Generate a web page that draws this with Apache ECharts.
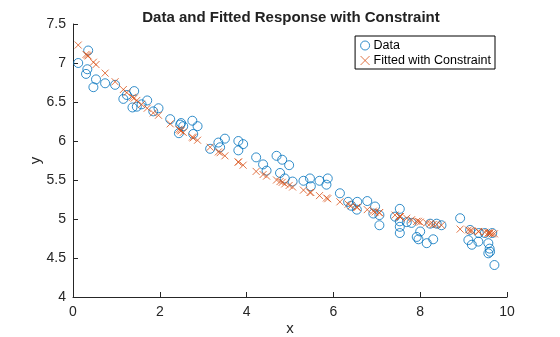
<!DOCTYPE html>
<html><head><meta charset="utf-8">
<script src="https://cdn.jsdelivr.net/npm/echarts@6/dist/echarts.min.js"></script>
<style>html,body{margin:0;padding:0;background:#fff}#c{width:560px;height:337px}</style>
</head><body><div id="c"></div>
<script>
const xVals = [0.12,0.30,0.33,0.35,0.47,0.53,0.74,0.97,1.16,1.24,1.37,1.41,1.47,1.58,1.71,1.85,1.97,2.24,2.44,2.47,2.49,2.54,2.75,2.77,2.87,3.16,3.35,3.39,3.50,3.81,3.81,3.92,4.22,4.38,4.46,4.69,4.77,4.82,4.88,4.98,5.06,5.31,5.46,5.48,5.68,5.84,5.87,6.15,6.34,6.41,6.54,6.55,6.78,6.92,6.96,7.06,7.06,7.42,7.53,7.53,7.53,7.53,7.69,7.80,7.92,7.96,8.00,8.15,8.23,8.30,8.38,8.49,8.92,9.11,9.15,9.19,9.34,9.35,9.49,9.57,9.57,9.60,9.61,9.66,9.71];
const yData = [7.00,6.86,6.92,7.16,6.69,6.79,6.74,6.72,6.54,6.59,6.43,6.64,6.44,6.47,6.52,6.38,6.42,6.28,6.10,6.21,6.23,6.19,6.26,6.09,6.19,5.90,5.98,5.92,6.03,6.00,5.88,5.96,5.79,5.70,5.62,5.81,5.59,5.76,5.52,5.69,5.48,5.49,5.52,5.42,5.49,5.44,5.52,5.33,5.22,5.17,5.12,5.22,5.23,5.07,5.16,5.05,4.92,5.03,5.13,4.97,4.90,4.82,4.96,4.95,4.77,4.74,4.84,4.69,4.94,4.74,4.94,4.92,5.01,4.73,4.86,4.67,4.71,4.82,4.82,4.69,4.56,4.62,4.58,4.82,4.41];
const yFit = [7.23,7.11,7.10,7.09,7.01,6.98,6.87,6.76,6.66,6.62,6.56,6.55,6.52,6.47,6.42,6.36,6.33,6.22,6.15,6.14,6.13,6.11,6.05,6.04,6.01,5.92,5.86,5.85,5.81,5.73,5.73,5.69,5.61,5.57,5.55,5.50,5.48,5.47,5.45,5.43,5.41,5.37,5.34,5.34,5.30,5.27,5.26,5.22,5.19,5.17,5.15,5.15,5.12,5.10,5.09,5.08,5.08,5.05,5.03,5.03,5.03,5.03,5.01,4.99,4.97,4.97,4.96,4.95,4.94,4.93,4.93,4.92,4.87,4.86,4.85,4.85,4.84,4.84,4.83,4.82,4.82,4.82,4.82,4.81,4.81];
const xTicks = [0,2,4,6,8,10];
const yTicks = [4,4.5,5,5.5,6,6.5,7,7.5];

const dataPts = xVals.map((x,i)=>[x,yData[i]]);
const fitPts = xVals.map((x,i)=>[x,yFit[i]]);
const axCol = '#262626';
const font = '"Liberation Sans", Arial, sans-serif';
const crossPath = 'path://M0,0L10,10M10,0L0,10';
const circlePath = 'path://M10,5A5,5 0 1 1 0,5A5,5 0 1 1 10,5Z';

const chart = echarts.init(document.getElementById('c'));
chart.setOption({
  animation:false,
  backgroundColor:'#fff',
  title:{text:'Data and Fitted Response with Constraint',left:286,textAlign:'center',top:5,
    textStyle:{fontFamily:font,fontSize:15,fontWeight:'bold',color:'#222'}},
  grid:{left:73,right:53,top:24,bottom:40,outerBoundsMode:'none',containLabel:false},
  legend:{right:65,top:36,orient:'vertical',itemGap:2,itemWidth:9,itemHeight:9,
    borderColor:'#000',borderWidth:1,backgroundColor:'#fff',padding:[3,4,2,5],borderRadius:0,
    textStyle:{fontFamily:font,fontSize:12.5,color:'#000',padding:[0,0,0,-1]},
    data:[{name:'Data',icon:circlePath,itemStyle:{color:'rgba(0,0,0,0)',borderColor:'#0072BD',borderWidth:1}},
          {name:'Fitted with Constraint',icon:crossPath,itemStyle:{color:'rgba(0,0,0,0)',borderColor:'#D95319',borderWidth:1}}]},
  xAxis:{type:'value',min:0,max:10,interval:2,name:'x',nameLocation:'middle',nameGap:24,nameMoveOverlap:false,
    nameTextStyle:{fontFamily:font,fontSize:15,color:axCol},
    axisLine:{show:true,lineStyle:{color:axCol,width:1}},
    axisTick:{show:true,inside:true,length:5,lineStyle:{color:axCol}},
    axisLabel:{fontFamily:font,fontSize:14,color:axCol,margin:8,
      formatter:v=>xTicks.includes(v)?String(v):''},
    splitLine:{show:false}},
  yAxis:{type:'value',min:4,max:7.5,interval:0.5,name:'y',nameLocation:'middle',nameGap:30,nameMoveOverlap:false,
    nameTextStyle:{fontFamily:font,fontSize:15,color:axCol},
    axisLine:{show:true,lineStyle:{color:axCol,width:1}},
    axisTick:{show:true,inside:true,length:5,lineStyle:{color:axCol}},
    axisLabel:{fontFamily:font,fontSize:14,color:axCol,margin:7,
      formatter:v=>yTicks.includes(v)?String(v):''},
    splitLine:{show:false}},
  series:[
    {name:'Data',type:'scatter',data:dataPts,symbol:circlePath,symbolSize:9,
     itemStyle:{color:'rgba(0,0,0,0)',borderColor:'#0072BD',borderWidth:1}},
    {name:'Fitted with Constraint',type:'scatter',data:fitPts,symbol:crossPath,symbolSize:7,
     itemStyle:{color:'rgba(0,0,0,0)',borderColor:'#D95319',borderWidth:1}}
  ]
});
</script></body></html>
